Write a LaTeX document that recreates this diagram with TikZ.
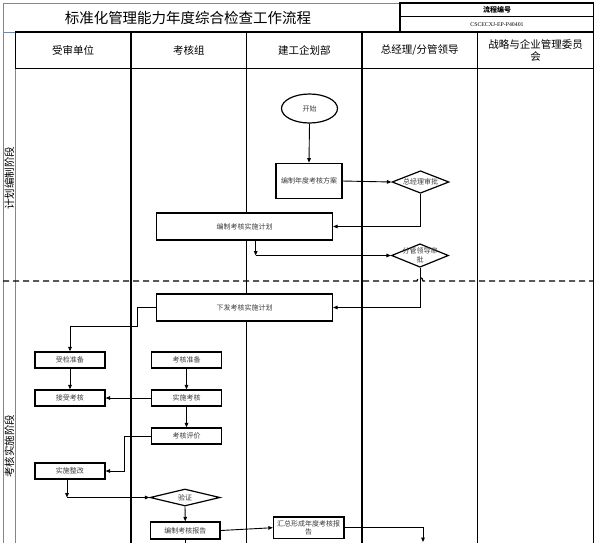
\documentclass[tikz,border=0pt]{standalone}
\usepackage{fontspec}
\setmainfont{Liberation Serif}
\newfontfamily\cjk{Noto Sans CJK SC}
\usetikzlibrary{arrows.meta,shapes.geometric}
\definecolor{frame}{RGB}{118,136,165}
\definecolor{boxtext}{RGB}{60,60,60}
\begin{document}
\begin{tikzpicture}[x=1pt,y=-1pt,
  frm/.style={draw=frame,line width=1pt},
  lanel/.style={draw=black,line width=1.3pt},
  hdr/.style={font=\cjk\fontsize{10.5}{12.5}\selectfont,align=center,inner sep=0pt},
  phase/.style={font=\cjk\fontsize{10.5}{12}\selectfont,rotate=90,inner sep=0pt},
  box/.style={rectangle,draw=black,fill=white,line width=1.2pt,inner sep=0pt,
    font=\cjk\fontsize{7}{8.5}\selectfont,text=boxtext,align=center},
  dia/.style={diamond,draw=black,fill=white,line width=1.2pt,inner sep=0pt},
  ell/.style={ellipse,draw=black,fill=white,line width=1.2pt,inner sep=0pt,
    font=\cjk\fontsize{7}{8.5}\selectfont,text=boxtext},
  dtxt/.style={font=\cjk\fontsize{7}{8.5}\selectfont,text=boxtext,align=center,inner sep=0pt},
  arr/.style={draw=black,line width=0.9pt,-{Triangle[length=4.5pt,width=3.6pt]}},
  conn/.style={draw=black,line width=0.9pt}
]
\useasboundingbox (0,0) rectangle (598,542);
% ---------- frame ----------
\draw[frm] (3,3) rectangle (400,32);
\draw[frm] (3,32) -- (3,545);
\draw[frm] (15.5,68.5) -- (15.5,545);
\draw[lanel,line width=1.1pt] (400,3) rectangle (593.5,32);
\draw[lanel,line width=1pt] (400,16.5) -- (593.5,16.5);
\draw[lanel] (15.5,32) rectangle (593.5,68.5);
\foreach \x in {131,246.5,362,477.5}{
  \draw[lanel] (\x,32) -- (\x,545);
}
\draw[lanel] (593.5,68.5) -- (593.5,545);
% dashed phase separator with a hop
\draw[draw=black,line width=1.2pt,dash pattern=on 6pt off 4pt] (3,281) -- (417,281)
  .. controls (417,276.5) and (423,276.5) .. (423,281) -- (593.5,281);
% ---------- header texts ----------
\node[font=\cjk\fontsize{14.5}{16}\selectfont,inner sep=0pt] (title) at (188,18) {标准化管理能力年度综合检查工作流程};
\node[font=\cjk\bfseries\fontsize{7}{8}\selectfont,inner sep=0pt] (codelbl) at (497,10) {流程编号};
\node[font=\fontsize{5.8}{7}\selectfont,inner sep=0pt] (code) at (497,24.5) {CSCECXJ-EP-P40401};
\node[hdr] (h1) at (73.25,50.5) {受审单位};
\node[hdr] (h2) at (188.75,50.5) {考核组};
\node[hdr] (h3) at (304.25,50.5) {建工企划部};
\node[hdr] (h4) at (419.75,50.5) {总经理/分管领导};
\node[hdr] (h5) at (535.5,50.5) {战略与企业管理委员\\会};
\node[phase] (p1) at (9.3,178) {计划编制阶段};
\node[phase] (p2) at (9.3,446) {考核实施阶段};
% ---------- flow nodes ----------
\node[ell,minimum width=56pt,minimum height=29pt] (start) at (309.5,108.5) {开始};
\node[box,minimum width=66pt,minimum height=35.5pt] (n1) at (309,181) {编制年度考核方案};
\node[dia,minimum width=57pt,minimum height=22.5pt] (d1) at (420.5,182) {};
\node[dtxt] (d1t) at (d1) {总经理审批};
\node[box,minimum width=176pt,minimum height=27pt] (n2) at (244.5,226.5) {编制考核实施计划};
\node[dia,minimum width=57pt,minimum height=23.5pt] (d2) at (420,255.5) {};
\node[dtxt] (d2t) at (d2) {分管领导审\\批};
\node[box,minimum width=176pt,minimum height=27pt] (n3) at (244.5,307.5) {下发考核实施计划};
\node[box,minimum width=70pt,minimum height=16pt] (n4) at (70,360) {受检准备};
\node[box,minimum width=70pt,minimum height=16pt] (n5) at (70,398) {接受考核};
\node[box,minimum width=70pt,minimum height=16pt] (n6) at (186.5,360) {考核准备};
\node[box,minimum width=70pt,minimum height=16pt] (n7) at (186.5,398) {实施考核};
\node[box,minimum width=70pt,minimum height=16pt] (n8) at (186.5,436) {考核评价};
\node[box,minimum width=70pt,minimum height=16pt] (n9) at (70,471) {实施整改};
\node[dia,minimum width=70pt,minimum height=17pt] (d3) at (185,497.5) {};
\node[dtxt] (d3t) at (d3) {验证};
\node[box,minimum width=69.5pt,minimum height=17pt] (n10) at (185.3,530.5) {编制考核报告};
\node[box,minimum width=70.5pt,minimum height=21.5pt] (n11) at (308.7,527.7) {汇总形成年度考核报\\告};
% ---------- helper coordinates ----------
\coordinate (c1) at (255.7,255.5);
\coordinate (k1) at (137.5,326.5);
\coordinate (k2) at (124,436);
\coordinate (c2) at (67,497.5);
\coordinate (e1) at (423,542);
\coordinate (e2) at (185.3,546);
% ---------- connectors ----------
\draw[arr] (start.south) -- (n1.north);
\draw[arr] (n1.east) -- (d1.west);
\draw[arr] (d1.south) |- (n2.east);
\draw[arr] (n2.south -| c1) -- (c1);
\draw[arr] (c1) -- (d2.west);
\draw[arr] (d2.south) |- (n3.east);
\draw[arr] (n3.west) -| (k1) -| (n4.north);
\draw[arr] (n4.south) -- (n5.north);
\draw[arr] (n6.south) -- (n7.north);
\draw[arr] (n7.west) -- (n5.east);
\draw[arr] (n7.south) -- (n8.north);
\draw[arr] (n8.west) -- (k2) |- (n9.east);
\draw[arr] (n9.south -| c2) -- (c2);
\draw[arr] (c2) -- (d3.west);
\draw[arr] (d3.south) -- (n10.north);
\draw[arr] (n10.east) -- (n11.west);
\draw[arr] (n11.east) -| (e1);
\draw[conn] (n10.south) -- (e2);
\end{tikzpicture}
\end{document}
